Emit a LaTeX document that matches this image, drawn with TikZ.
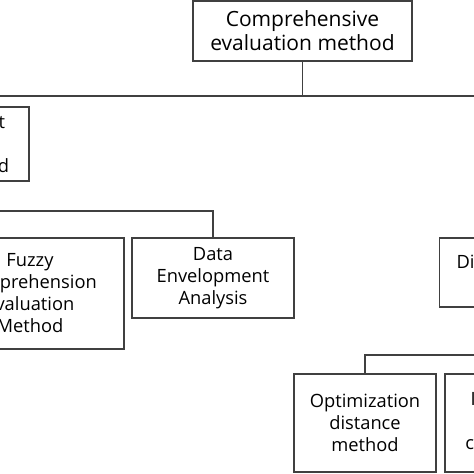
\documentclass[tikz,border=0pt]{standalone}
\usepackage{fontspec}
\setmainfont{Open Sans}
\usetikzlibrary{positioning}
\tikzset{
  box/.style={draw=black!75,line width=1.2pt,rectangle,align=center,inner sep=0pt,font=\fontsize{18.3}{22}\selectfont},
  topbox/.style={box,font=\fontsize{21}{24}\selectfont},
  link/.style={draw=black!75,line width=1.2pt}
}
\begin{document}
\begin{tikzpicture}[x=1pt,y=1pt]
    \useasboundingbox (0,0) rectangle (474,-474);
    \clip (0,0) rectangle (474,-474);
    % Top box
    \node[topbox,minimum width=219pt,minimum height=60pt] (cem) at (302.5,-31) {Comprehensive\\evaluation method};
    % Second level
    \node[box,minimum width=107pt,minimum height=74pt] (wsm) at (-24.5,-144) {Weight\\sum\\method};
    \node[box,minimum height=69pt,inner xsep=17pt,anchor=west] (dist) at (439,-272.5) {Distance-based\\method};
    % Third level, left
    \node[box,minimum width=188pt,minimum height=111pt] (fce) at (30,-293.5) {Fuzzy\\comprehension\\evaluation\\Method};
    \node[box,minimum width=162pt,minimum height=80pt] (dea) at (213,-278) {Data\\Envelopment\\Analysis};
    % Third level, right
    \node[box,minimum width=142pt,minimum height=98pt] (odm) at (365,-423) {Optimization\\distance\\method};
    \node[box,minimum width=142pt,minimum height=98pt] (ipc) at (516,-423) {Ideal point\\ranking\\comparison};
    % Bus lines
    \coordinate (busa) at (0,-96);
    \coordinate (busb) at (0,-211);
    \coordinate (busc) at (0,-355);
    \draw[link] (cem.south) -- (cem.south |- busa);
    \draw[link] (wsm.north) |- (dist.north |- busa) -- (dist.north);
    \draw[link] (wsm.south) -- (fce.north -| wsm.south);
    \draw[link] (wsm.south |- busb) -| (dea.north);
    \draw[link] (dist.south) -- (dist.south |- busc) -| (odm.north);
    \draw[link] (dist.south |- busc) -| (ipc.north);
\end{tikzpicture}
\end{document}
